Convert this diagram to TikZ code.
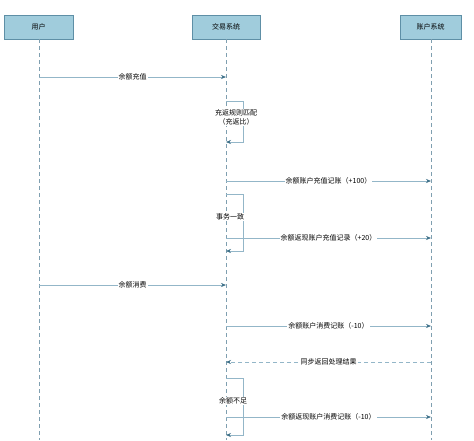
\documentclass[tikz,border=0pt]{standalone}
\usepackage{fontspec}
\setmainfont{Noto Sans CJK SC}
\usetikzlibrary{arrows.meta}
\definecolor{boxfill}{HTML}{A0CCDC}
\definecolor{boxline}{HTML}{5E8FA6}
\definecolor{msgline}{HTML}{93B6C8}
\definecolor{tipcol}{HTML}{3F7189}
\definecolor{lifecol}{HTML}{7F9FB0}
\begin{document}
\begin{tikzpicture}[x=1pt,y=-1pt,
  actor/.style={draw=boxline,fill=boxfill,minimum height=24pt,inner sep=0pt,font=\fontsize{7}{8}\selectfont,text=black},
  life/.style={draw=lifecol,dash pattern=on 4pt off 3pt,line width=0.6pt},
  msg/.style={draw=msgline,line width=0.6pt,-{Stealth[length=5pt,width=4pt,color=tipcol]}},
  ret/.style={msg,dash pattern=on 4pt off 3pt},
  lbl/.style={fill=white,inner sep=1pt,font=\fontsize{7}{9}\selectfont,align=center,text=black}]
\useasboundingbox (0,0) rectangle (474,440);
% actors
\node[actor,minimum width=69pt] (u) at (38.5,27) {用户};
\node[actor,minimum width=68pt] (t) at (226,27) {交易系统};
\node[actor,minimum width=61pt] (a) at (430.5,27) {账户系统};
% lifeline ends
\coordinate (ue) at (39,440);
\coordinate (te) at (226,440);
\coordinate (ae) at (431,440);
\draw[life] (u.south -| 39,0) -- (ue);
\draw[life] (t.south) -- (te);
\draw[life] (a.south -| 431,0) -- (ae);
% points on lifelines
\foreach \n/\y in {1/77,4/181,6/238,7/285,8/326,9/362,11/417}{
  \coordinate (u\n) at (39,\y);
  \coordinate (t\n) at (226,\y);
  \coordinate (a\n) at (431,\y);
}
\coordinate (l1a) at (226,101); \coordinate (l1b) at (243,101);
\coordinate (l1c) at (243,142); \coordinate (l1d) at (226,142);
\coordinate (l2a) at (226,194); \coordinate (l2b) at (243,194);
\coordinate (l2c) at (243,251); \coordinate (l2d) at (226,251);
\coordinate (l3a) at (226,378); \coordinate (l3b) at (243,378);
\coordinate (l3c) at (243,435); \coordinate (l3d) at (226,435);
% messages
\draw[msg] (u1) -- node[lbl]{余额充值} (t1);
\draw[msg] (l1a) -- (l1b) -- (l1c) -- (l1d);
\node[lbl] (n2) at (236,117.5) {充返规则匹配\\（充返比）};
\draw[msg] (t4) -- node[lbl]{余额账户充值记账（+100）} (a4);
\draw[msg] (l2a) -- (l2b) -- (l2c) -- (l2d);
\node[lbl] (n5) at (230,217) {事务一致};
\draw[msg] (t6) -- node[lbl]{余额返现账户充值记录（+20）} (a6);
\draw[msg] (u7) -- node[lbl]{余额消费} (t7);
\draw[msg] (t8) -- node[lbl]{余额账户消费记账（-10）} (a8);
\draw[ret] (a9) -- node[lbl]{同步返回处理结果} (t9);
\draw[msg] (l3a) -- (l3b) -- (l3c) -- (l3d);
\node[lbl] (n10) at (233,401) {余额不足};
\draw[msg] (t11) -- node[lbl]{余额返现账户消费记账（-10）} (a11);
\end{tikzpicture}
\end{document}
